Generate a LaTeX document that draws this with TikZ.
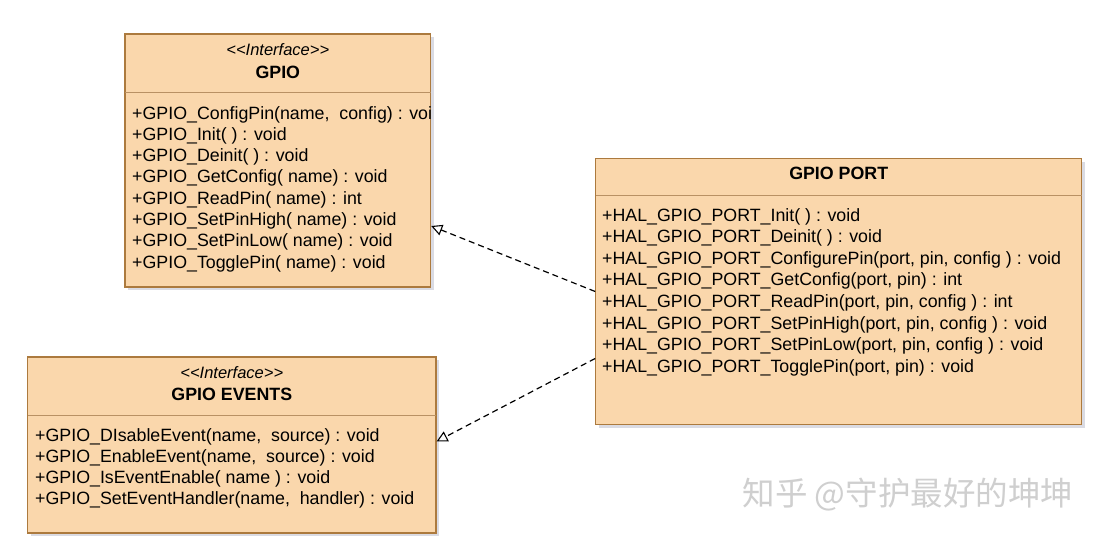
\documentclass[tikz,border=0pt]{standalone}
\usepackage{fontspec}
\setmainfont{Liberation Sans}
\newfontfamily\cjk{Noto Sans CJK SC}
\usetikzlibrary{arrows.meta,shadows}
\definecolor{umlfill}{RGB}{250,215,172}
\definecolor{umlline}{RGB}{172,122,62}
\definecolor{umlsep}{RGB}{185,145,100}
\definecolor{shadowc}{RGB}{150,152,175}
\tikzset{
  umlbox/.style={draw=umlline, fill=umlfill, line width=1.1pt, inner sep=0pt,
    drop shadow={shadow xshift=3pt, shadow yshift=-3pt, fill=shadowc, opacity=0.35}},
  septl/.style={draw=umlsep, line width=0.8pt},
  meth/.style={anchor=base west, inner sep=0pt, font=\fontsize{17.8}{20}\selectfont},
  ttl/.style={anchor=base, inner sep=0pt, font=\fontsize{17.8}{20}\selectfont\bfseries},
  stereo/.style={anchor=base, inner sep=0pt, font=\fontsize{16.5}{20}\selectfont\itshape},
  real/.style={draw=black, line width=1.2pt, dash pattern=on 6pt off 4pt,
    -{Triangle[open, length=11pt, width=11pt, line width=1.1pt, fill=white]}}
}
\begin{document}
\begin{tikzpicture}[x=1pt,y=-1pt]
\useasboundingbox (0,0) rectangle (1104,543);
\fill[white] (0,0) rectangle (1104,543);

% GPIO interface
\node[umlbox, minimum width=305.7pt, minimum height=253pt] (gpio) at (277.85,160.5) {};
\draw[septl] (125,92) -- (430.7,92);
\node[stereo] (gpiost) at (277.8,56) {<{}<Interface>{}>};
\node[ttl] (gpiott) at (277.8,78) {GPIO};
\begin{scope}
\clip (125,34) rectangle (430,287);
\node[meth] (g1) at (132,119) {+GPIO\_ConfigPin(name,\ \ config) : void};
\end{scope}
\node[meth] (g2) at (132,140.3) {+GPIO\_Init( ) : void};
\node[meth] (g3) at (132,161.6) {+GPIO\_Deinit( ) : void};
\node[meth] (g4) at (132,182.9) {+GPIO\_GetConfig( name) : void};
\node[meth] (g5) at (132,204.2) {+GPIO\_ReadPin( name) : int};
\node[meth] (g6) at (132,225.5) {+GPIO\_SetPinHigh( name) : void};
\node[meth] (g7) at (132,246.8) {+GPIO\_SetPinLow( name) : void};
\node[meth] (g8) at (132,268.1) {+GPIO\_TogglePin( name) : void};

% GPIO EVENTS interface
\node[umlbox, minimum width=408.3pt, minimum height=176pt] (events) at (231.85,445) {};
\draw[septl] (27.7,415) -- (436,415);
\node[stereo] (evst) at (231.8,378.5) {<{}<Interface>{}>};
\node[ttl] (evtt) at (231.8,400) {GPIO EVENTS};
\node[meth] (e1) at (35,441) {+GPIO\_DIsableEvent(name,\ \ source) : void};
\node[meth] (e2) at (35,462.3) {+GPIO\_EnableEvent(name,\ \ source) : void};
\node[meth] (e3) at (35,483.6) {+GPIO\_IsEventEnable( name ) : void};
\node[meth] (e4) at (35,504.9) {+GPIO\_SetEventHandler(name,\ \ handler) : void};

% GPIO PORT
\node[umlbox, minimum width=486pt, minimum height=266pt] (port) at (838.7,291.5) {};
\draw[septl] (595.7,195) -- (1081.7,195);
\node[ttl] (porttt) at (838.7,179.5) {GPIO PORT};
\node[meth] (p1) at (602,221) {+HAL\_GPIO\_PORT\_Init( ) : void};
\node[meth] (p2) at (602,242.6) {+HAL\_GPIO\_PORT\_Deinit( ) : void};
\node[meth] (p3) at (602,264.2) {+HAL\_GPIO\_PORT\_ConfigurePin(port, pin, config ) : void};
\node[meth] (p4) at (602,285.8) {+HAL\_GPIO\_PORT\_GetConfig(port, pin) : int};
\node[meth] (p5) at (602,307.4) {+HAL\_GPIO\_PORT\_ReadPin(port, pin, config ) : int};
\node[meth] (p6) at (602,329) {+HAL\_GPIO\_PORT\_SetPinHigh(port, pin, config ) : void};
\node[meth] (p7) at (602,350.6) {+HAL\_GPIO\_PORT\_SetPinLow(port, pin, config ) : void};
\node[meth] (p8) at (602,372.2) {+HAL\_GPIO\_PORT\_TogglePin(port, pin) : void};

% realizations
\draw[real] (port.west) -- ([yshift=-65.5pt]gpio.east);
\draw[real] ([yshift=-67pt]port.west) -- ([yshift=3.5pt]events.east);

% watermark
\node[inner sep=0pt, text=gray!38, font=\cjk\fontsize{32.5}{34}\selectfont] (wm) at (908,495) {知乎 @守护最好的坤坤};
\end{tikzpicture}
\end{document}
